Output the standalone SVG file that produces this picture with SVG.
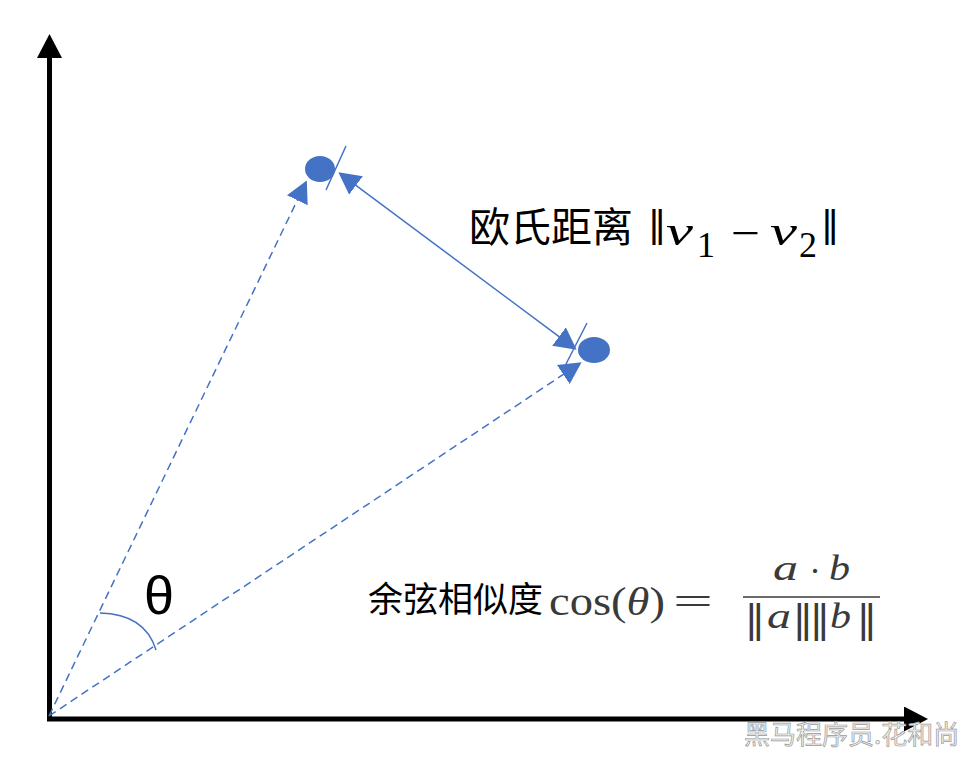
<svg xmlns="http://www.w3.org/2000/svg" width="980" height="758" viewBox="0 0 980 758">
  <style>
    .axis { fill: none; stroke: #000; stroke-width: 5; stroke-linejoin: miter; }
    .vec { fill: none; stroke: #4472C4; stroke-width: 1.5; }
    .dash { stroke-dasharray: 8 5; }
    .tick { stroke: #4472C4; stroke-width: 1.5; }
    .pt { fill: #4472C4; }
    .cjk { font-family: "Noto Sans CJK SC", "Noto Sans", sans-serif; fill: #000; }
    .m { font-family: "Liberation Serif", "DejaVu Serif", serif; }
    .mi { font-family: "Liberation Serif", "DejaVu Serif", serif; font-style: italic; }
    .bars { font-family: "Liberation Sans", Arial, sans-serif; letter-spacing: -3.7px; }
    .gray { fill: #3a3a3a; }
  </style>
  <defs>
    <marker id="axArrow" viewBox="0 0 24 25" refX="1" refY="12.5" markerWidth="24" markerHeight="25" markerUnits="userSpaceOnUse" orient="auto-start-reverse">
      <path d="M0,0 L24,12.5 L0,25 z" fill="#000"/>
    </marker>
    <marker id="blueArrow" viewBox="0 0 22 23" refX="0.5" refY="11.5" markerWidth="22" markerHeight="23" markerUnits="userSpaceOnUse" orient="auto-start-reverse">
      <path d="M0,0 L22,11.5 L0,23 z" fill="#4472C4"/>
    </marker>
  </defs>
  <rect width="980" height="758" fill="#fff"/>

  <g id="axes">
    <path class="axis" d="M49.5,57 V719 H905" marker-start="url(#axArrow)" marker-end="url(#axArrow)"/>
  </g>

  <g id="connectors">
    <line class="vec dash" x1="49" y1="716" x2="297.5" y2="199.8" marker-end="url(#blueArrow)"/>
    <line class="vec dash" x1="49" y1="716" x2="563.7" y2="374.2" marker-end="url(#blueArrow)"/>
    <line class="vec" x1="355.6" y1="185.1" x2="559.4" y2="336.9" marker-start="url(#blueArrow)" marker-end="url(#blueArrow)"/>
    <line class="tick" x1="346" y1="146" x2="326" y2="190"/>
    <line class="tick" x1="587" y1="323" x2="566" y2="364"/>
    <path class="vec" d="M100,613 Q145,614 156,650"/>
  </g>

  <g id="v1">
    <ellipse class="pt" cx="320" cy="169" rx="15" ry="13"/>
  </g>
  <g id="v2">
    <ellipse class="pt" cx="594" cy="350" rx="16" ry="13"/>
  </g>

  <g id="theta-label">
    <text x="159" y="614" font-family="Liberation Sans, Arial, sans-serif" font-size="54" text-anchor="middle" fill="#000">θ</text>
  </g>

  <g id="euclid-label">
    <text class="cjk" x="469" y="242" font-size="41">欧氏距离</text>
    <text class="bars" x="649" y="237" font-size="38">||</text>
    <text class="mi" x="666" y="245" font-size="42" textLength="27" lengthAdjust="spacingAndGlyphs">v</text>
    <text class="m" x="697" y="257" font-size="36">1</text>
    <text class="m" x="731" y="248" font-size="44" textLength="29" lengthAdjust="spacingAndGlyphs">−</text>
    <text class="mi" x="770" y="245" font-size="42" textLength="27" lengthAdjust="spacingAndGlyphs">v</text>
    <text class="m" x="799" y="257" font-size="36">2</text>
    <text class="bars" x="822" y="237" font-size="38">||</text>
  </g>

  <g id="cosine-label">
    <text class="cjk" x="368" y="612" font-size="35">余弦相似度</text>
    <text class="m gray" x="549" y="615" font-size="40" textLength="116" lengthAdjust="spacingAndGlyphs">cos(<tspan font-style="italic">θ</tspan>)</text>
    <text class="m gray" x="673" y="614" font-size="38" textLength="40" lengthAdjust="spacingAndGlyphs">=</text>
    <text class="mi gray" x="773" y="580" font-size="36" textLength="25" lengthAdjust="spacingAndGlyphs">a</text>
    <text class="m gray" x="815" y="583" font-size="36" text-anchor="middle">·</text>
    <text class="mi gray" x="829" y="580" font-size="36" textLength="21" lengthAdjust="spacingAndGlyphs">b</text>
    <line x1="743" y1="597" x2="880" y2="597" stroke="#3a3a3a" stroke-width="1.6"/>
    <text class="bars gray" x="746" y="633" font-size="41">||</text>
    <text class="mi gray" x="767" y="628" font-size="36" textLength="24" lengthAdjust="spacingAndGlyphs">a</text>
    <text class="bars gray" x="794" y="633" font-size="41">||</text>
    <text class="bars gray" x="811" y="633" font-size="41">||</text>
    <text class="mi gray" x="830" y="628" font-size="36" textLength="21" lengthAdjust="spacingAndGlyphs">b</text>
    <text class="bars gray" x="858" y="633" font-size="41">||</text>
  </g>

  <g id="watermark">
    <text x="744" y="744" font-family="Noto Sans CJK SC, sans-serif" font-size="26" fill="#f2f2f2" stroke="#9a9a9a" stroke-width="0.7">黑马程序员.花和尚</text>
  </g>
</svg>
